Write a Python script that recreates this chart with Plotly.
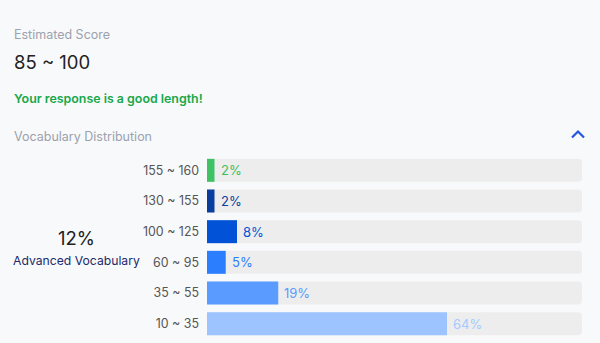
import plotly.graph_objects as go

# ---- data ----
categories = ["155 ~ 160", "130 ~ 155", "100 ~ 125", "60 ~ 95", "35 ~ 55", "10 ~ 35"]
values = [2, 2, 8, 5, 19, 64]
labels = ["2%", "2%", "8%", "5%", "19%", "64%"]
bar_colors = ["#3ec264", "#0b3d9f", "#0152d6", "#2b7fff", "#5a9bff", "#9ec4ff"]
label_colors = ["#3bbf60", "#0b3d9f", "#0152d6", "#2b7fff", "#5a9bff", "#a6c9ff"]
track_value = 100
score_text = "85 ~ 100"
advanced_pct = "12%"

BG = "#f8f9fb"
FONT = "Inter"

W, H = 600, 343
L, R, T, B = 207, 18, 155, 4
pw, ph = W - L - R, H - T - B

def px(x):
    return (x - L) / pw

def py(y):
    return (H - B - y) / ph

fig = go.Figure()
fig.add_trace(go.Bar(
    y=categories, x=[track_value] * len(categories), orientation="h",
    marker=dict(color="#ededed", line=dict(width=0)), width=0.75,
    hoverinfo="skip", showlegend=False,
))
fig.add_trace(go.Bar(
    y=categories, x=values, orientation="h",
    marker=dict(color=bar_colors, line=dict(width=0)), width=0.75,
    hoverinfo="skip", showlegend=False,
))

for c, v, t, col in zip(categories, values, labels, label_colors):
    fig.add_annotation(x=v, y=c, xref="x", yref="y", text=t, showarrow=False,
                       xanchor="left", yanchor="middle", xshift=5, borderpad=0,
                       font=dict(family=FONT, size=13, color=col))

def txt(x, y, s, size, color, anchor="left", weight=None):
    fig.add_annotation(x=px(x), y=py(y), xref="paper", yref="paper", text=s,
                       showarrow=False, xanchor=anchor, yanchor="middle", borderpad=0,
                       font=dict(family=FONT, size=size, color=color,
                                 weight=weight if weight else "normal"))

txt(13, 34, "Estimated Score", 12.5, "#9ca1ad")
txt(13, 62, score_text, 18.5, "#222222")
txt(13, 98, "Your response is a good length!", 12.4, "#17a84a", weight=600)
txt(13, 136, "Vocabulary Distribution", 12.5, "#9ca1ad")
txt(76, 238, advanced_pct, 18.5, "#222222", anchor="center")
txt(76, 260, "Advanced Vocabulary", 12.2, "#1b2a6b", anchor="center")

# chevron
fig.add_shape(type="path", xref="paper", yref="paper",
              path=f"M {px(572)} {py(137.5)} L {px(578)} {py(131.5)} L {px(584)} {py(137.5)}",
              line=dict(color="#2456e0", width=2.2))

fig.update_layout(
    width=W, height=H, margin=dict(l=L, r=R, t=T, b=B),
    paper_bgcolor=BG, plot_bgcolor=BG, barmode="overlay", barcornerradius=4,
    font=dict(family=FONT),
    xaxis=dict(range=[0, 100], visible=False, fixedrange=True),
    yaxis=dict(categoryorder="array", categoryarray=categories, autorange="reversed",
               showgrid=False, zeroline=False, showline=False, ticks="",
               ticklabelstandoff=7, tickfont=dict(family=FONT, size=12.4, color="#555555"),
               fixedrange=True),
)

fig.write_html("out.html", config={"displayModeBar": False})
